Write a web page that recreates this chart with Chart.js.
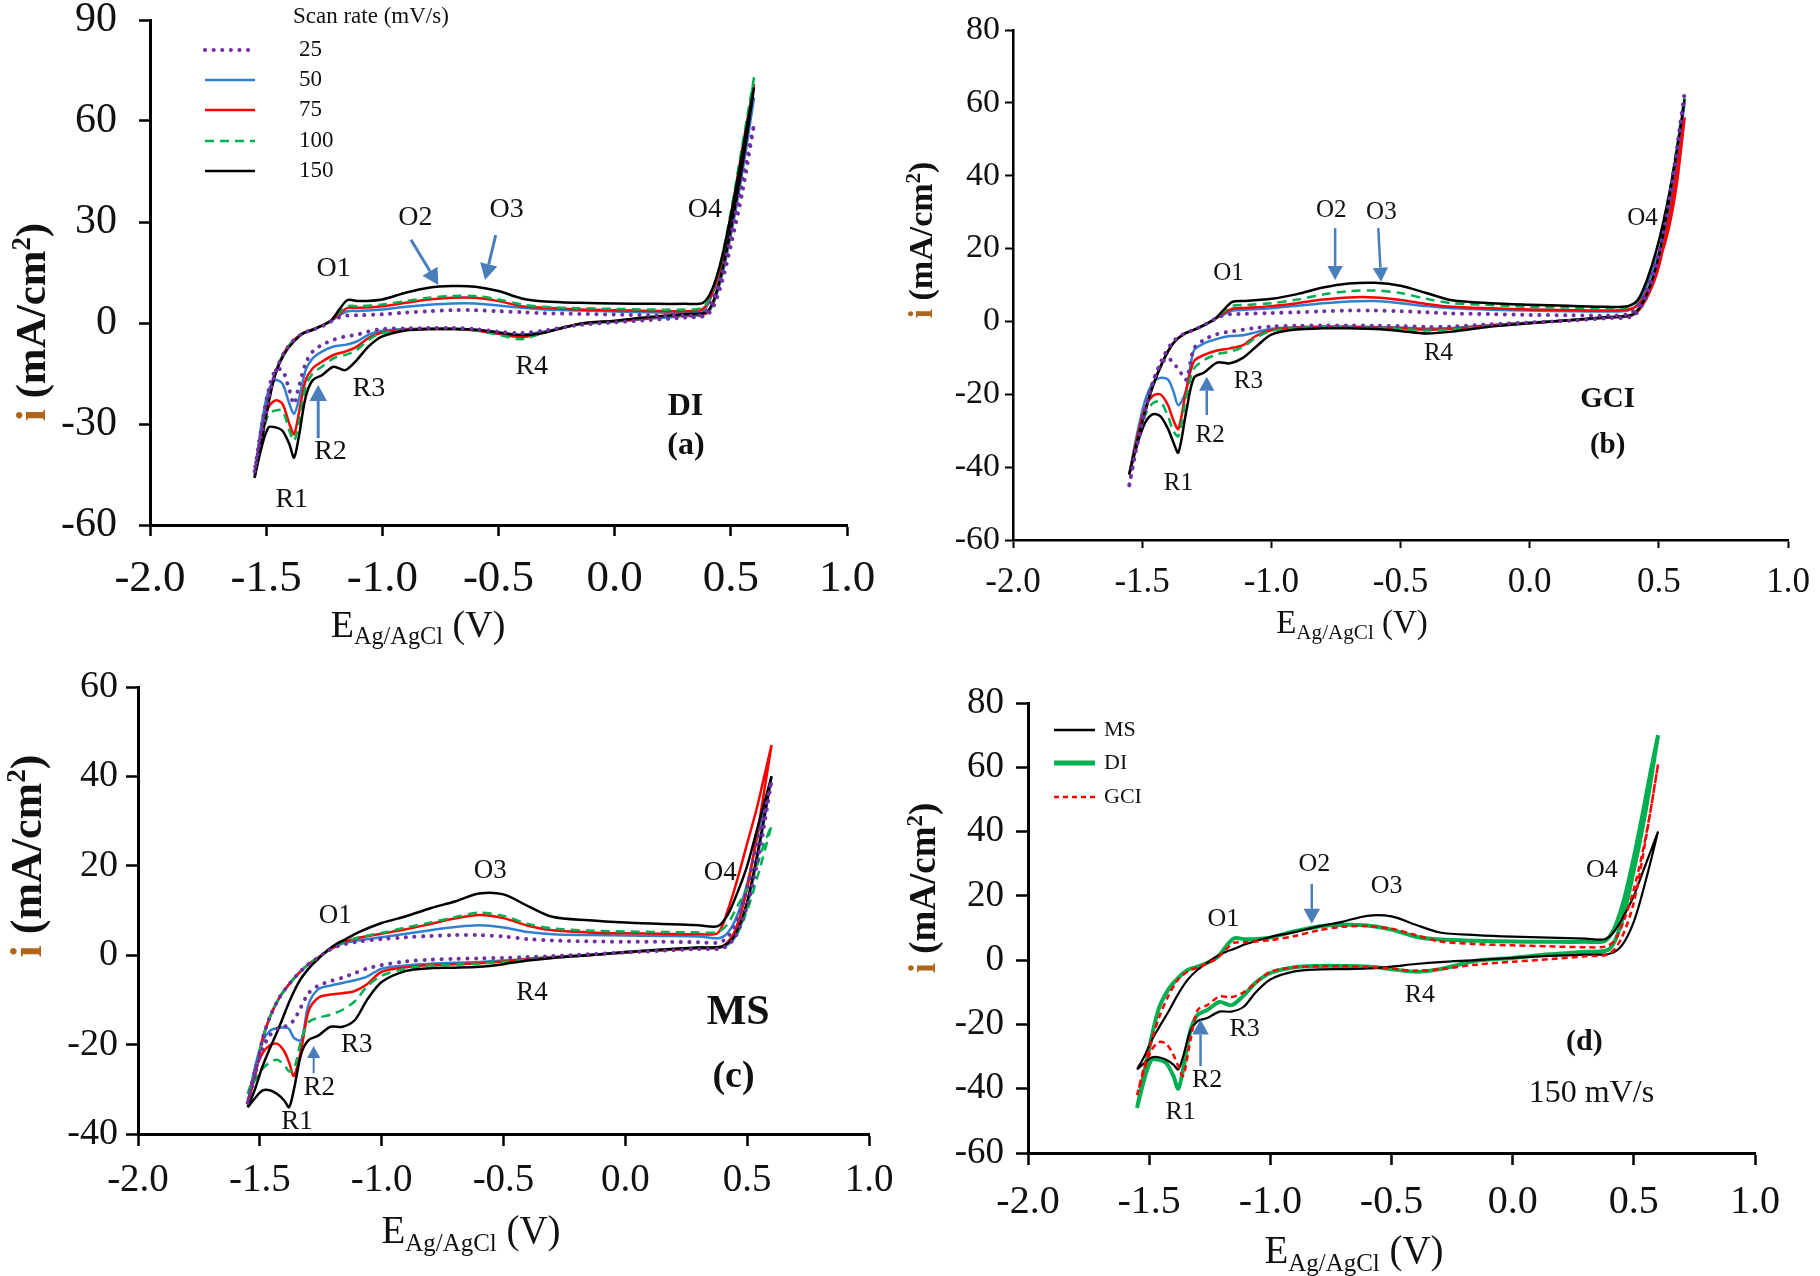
<!DOCTYPE html>
<html>
<head>
<meta charset="utf-8">
<title>Cyclic voltammograms - DI, GCI, MS</title>
<script src="https://cdn.jsdelivr.net/npm/chart.js@4.4.1/dist/chart.umd.min.js"></script>
<style>
  html, body { margin: 0; padding: 0; background: #fff; }
  #page { position: relative; width: 1820px; height: 1276px; overflow: hidden; background: #fff; }
  #page canvas { position: absolute; left: 0; top: 0; }
</style>
</head>
<body>
<div id="page">
  <canvas id="cvA" width="1820" height="1276"></canvas>
  <canvas id="cvB" width="1820" height="1276"></canvas>
  <canvas id="cvC" width="1820" height="1276"></canvas>
  <canvas id="cvD" width="1820" height="1276"></canvas>
</div>
<script>
// Potential grid (V vs Ag/AgCl): anodic sweep then the return sweep
const fwdE = [-1.55, -1.52, -1.49, -1.46, -1.42, -1.38, -1.34, -1.30, -1.26, -1.22, -1.18, -1.15, -1.10, -1.00, -0.90, -0.80,
  -0.70, -0.60, -0.50, -0.40, -0.30, -0.15, 0.00, 0.15, 0.30, 0.38, 0.42, 0.46, 0.50, 0.54, 0.57, 0.60];
const revE = [0.60, 0.55, 0.50, 0.45, 0.40, 0.30, 0.15, 0.00, -0.15, -0.30, -0.40, -0.50, -0.60, -0.70, -0.80, -0.90,
  -1.00, -1.06, -1.11, -1.16, -1.21, -1.26, -1.30, -1.33, -1.36, -1.38, -1.40, -1.43, -1.46, -1.49, -1.52, -1.55];

const scanRates = ['25', '50', '75', '100', '150'];
const xTicks = [-2.0, -1.5, -1.0, -0.5, 0.0, 0.5, 1.0];

// (a) DI, current density mA/cm2
const DI_25_fwd = [-44, -33, -23, -14.5, -8.5, -5, -3, -2, -1, 0.5, 1.8, 2.2, 2.3, 2.6, 3.1, 3.5, 3.8, 3.8, 3.5, 3.2, 2.9, 2.7, 2.5, 2.3, 2.2, 2.6, 6.5, 14, 26, 39, 49, 59];
const DI_25_rev = [59, 39, 23, 9.5, 2.5, 1.6, 0.9, 0.2, -0.6, -2.2, -3, -2.6, -1.8, -1.5, -1.5, -1.6, -1.8, -2.5, -3.5, -4, -5, -6.5, -8.5, -12, -19, -24, -20, -14, -14, -20, -31, -44];
const DI_50_fwd = [-45, -33, -22, -14.5, -8.5, -5, -3, -2, -0.8, 0.6, 2.5, 3.5, 3.6, 4, 4.8, 5.4, 5.8, 5.8, 5.2, 4.5, 4, 3.7, 3.4, 3.2, 3.0, 3.6, 8.5, 17, 30, 45, 56, 67];
const DI_50_rev = [67, 45, 26, 11, 3, 2.1, 1.3, 0.4, -0.4, -2.5, -3.5, -2.8, -2, -1.6, -1.6, -1.8, -2.3, -3.5, -5.5, -6.5, -7, -8.5, -10.5, -14, -23, -27, -24, -18, -17, -20, -30, -45];
const DI_75_fwd = [-46, -34, -23, -15, -8.5, -5, -3, -2, -0.8, 0.8, 3, 4.5, 4.5, 5, 6, 7, 7.5, 7.5, 6.5, 5, 4.5, 4.0, 3.8, 3.6, 3.5, 4.2, 9, 18, 32, 48, 60, 71];
const DI_75_rev = [71, 48, 28, 12, 3.2, 2.3, 1.5, 0.5, -0.3, -2.8, -4.2, -3.2, -2.2, -1.8, -1.8, -2, -2.8, -4.5, -7, -8.5, -9.5, -11.5, -13.5, -17, -27, -33, -30, -24, -23, -25, -33, -46];
const DI_100_fwd = [-46, -34, -23, -15, -8.5, -5, -3, -2, -0.8, 0.8, 3.5, 5, 5, 5.5, 6.5, 7.5, 8, 8, 7, 5.5, 4.8, 4.4, 4.2, 4.0, 4.0, 4.6, 9.5, 19, 33, 49, 61, 73];
const DI_100_rev = [73, 49, 29, 12.5, 3.3, 2.4, 1.6, 0.6, -0.3, -2.8, -4.8, -3.5, -2.2, -1.8, -1.8, -2.2, -3, -5, -8, -9.5, -10.5, -13, -15, -19, -30, -35, -32, -26, -26, -27, -35, -46];
const DI_150_fwd = [-46, -35, -24, -15, -9, -5.5, -3, -2, -0.8, 0.8, 4.5, 6.8, 6.5, 7, 9, 10.5, 11, 10.8, 9.5, 7.3, 6.4, 6.0, 5.8, 5.7, 5.7, 6, 10, 19, 32, 47, 59, 70];
const DI_150_rev = [70, 47, 28, 12, 3.5, 2.6, 1.8, 0.7, -0.2, -2.8, -3.6, -2.8, -2, -1.8, -1.8, -2.2, -4, -7, -11, -14, -13, -15.5, -17, -22, -34, -40, -36, -32, -31, -31, -37, -46];

// (b) GCI
const GCI_25_fwd = [-45, -34, -25, -17, -10, -5.5, -3.5, -2.3, -1, 0.6, 1.8, 2, 2.1, 2.3, 2.5, 2.8, 3, 3, 2.8, 2.5, 2.2, 2, 1.8, 1.7, 1.6, 2, 4, 10, 19, 31, 45, 63];
const GCI_25_rev = [63, 38, 18, 6.5, 1.5, 0.9, 0.2, -0.3, -0.8, -1.4, -1.5, -1.3, -1.2, -1.1, -1.1, -1.2, -1.4, -1.8, -2.3, -2.8, -3.5, -5, -7.5, -16, -13, -11.5, -10, -12, -17, -25, -34, -45];
const GCI_50_fwd = [-42, -33, -25, -18, -11, -6, -3.5, -2.3, -1, 0.6, 2, 3, 3.2, 3.6, 4.3, 5, 5.5, 5.6, 5, 4.2, 3.6, 3.2, 3, 2.8, 2.7, 3, 5, 11, 19, 31, 44, 60];
const GCI_50_rev = [60, 36, 17, 6.5, 1.8, 1, 0.3, -0.3, -1, -1.8, -2, -1.7, -1.5, -1.4, -1.4, -1.6, -2, -3, -3.8, -4, -4.8, -6, -8, -19, -23, -19, -16, -15.5, -17, -22, -31, -42];
const GCI_75_fwd = [-42, -33, -25, -18, -11, -6, -3.5, -2.3, -1, 0.6, 2.5, 3.5, 3.7, 4.2, 5, 6, 6.6, 6.6, 5.9, 4.8, 4, 3.6, 3.3, 3.1, 3, 3.3, 4.5, 9, 16, 26, 38, 56];
const GCI_75_rev = [56, 33, 15, 6, 1.8, 1.1, 0.3, -0.4, -1.1, -2, -2.3, -1.9, -1.7, -1.5, -1.5, -1.7, -2.4, -4, -6.5, -7.4, -8, -9.2, -11, -19, -29.5, -27, -23, -20, -20.5, -24, -32, -42];
const GCI_100_fwd = [-42, -33, -25, -18, -11, -6, -3.5, -2.3, -1, 0.6, 3, 4.3, 4.5, 5, 6, 7.4, 8.3, 8.5, 7.8, 6.2, 5, 4.5, 4, 3.8, 3.6, 3.9, 6, 12.5, 22, 35, 48, 62];
const GCI_100_rev = [62, 38, 18, 7, 2, 1.2, 0.4, -0.4, -1.2, -2.2, -2.5, -2, -1.8, -1.6, -1.6, -1.8, -2.6, -4.5, -7, -8.3, -9, -10.6, -13, -21, -31.5, -30, -26, -22, -22.5, -26, -33, -42];
const GCI_150_fwd = [-42, -33, -25, -18, -11, -6, -3.5, -2.3, -1, 0.6, 3.5, 5.4, 5.6, 6.2, 7.5, 9.3, 10.4, 10.6, 9.8, 7.8, 5.8, 5, 4.6, 4.3, 4.0, 4.2, 6, 12.5, 22, 35, 47, 61];
const GCI_150_rev = [61, 38, 18, 7, 2, 1.2, 0.3, -0.5, -1.4, -2.8, -3.3, -2.6, -2.1, -1.9, -1.9, -2.2, -3.6, -7, -10, -11.5, -11.3, -14, -15.5, -25, -36, -33, -29.5, -26, -25.5, -28, -34, -42];

// (c) MS
const MS_25_fwd = [-33, -27, -19, -14, -9.5, -6.5, -4, -2, -0.5, 1, 2, 2.5, 3, 3.6, 4, 4.3, 4.5, 4.5, 4.2, 3.6, 3.3, 3.1, 3, 3, 2.9, 2.8, 4, 8, 15, 25, 32, 39];
const MS_25_rev = [39, 23, 11, 4, 1.6, 1.4, 1, 0.6, 0.2, -0.2, -0.4, -0.6, -0.7, -0.8, -1, -1.4, -2.2, -3, -4, -5, -5.8, -6.8, -8.5, -11.5, -14.5, -15.5, -16, -16.5, -18, -21, -26, -33];
const MS_50_fwd = [-33, -27, -19, -14, -9.5, -6.5, -4, -2, -0.5, 1, 2.2, 2.8, 3.3, 4, 4.8, 5.6, 6.3, 6.7, 6.2, 5.2, 4.7, 4.5, 4.4, 4.3, 4.2, 3.8, 5, 9, 16, 26, 33, 40];
const MS_50_rev = [40, 24, 11, 4, 1.8, 1.5, 1.1, 0.6, 0.1, -0.4, -0.8, -1.2, -1.5, -1.7, -1.9, -2.3, -3, -4.8, -5.6, -6.2, -6.8, -7.6, -11, -19, -18.5, -16.5, -16.2, -16.3, -17, -19.5, -25, -33];
const MS_75_fwd = [-33, -27, -19, -14, -9.5, -6.5, -4, -2, -0.5, 1, 2.3, 3, 3.8, 4.8, 5.8, 7, 8.2, 9, 8.3, 6.6, 5.6, 5.1, 4.9, 4.8, 4.7, 5, 10, 17, 25, 33, 40, 47];
const MS_75_rev = [47, 30, 15, 5.5, 2, 1.6, 1.1, 0.6, 0, -0.5, -0.9, -1.4, -1.8, -2, -2.2, -2.7, -3.7, -6.5, -8, -8.5, -8.8, -9.5, -12.5, -21, -27, -24, -21.5, -19.8, -20.2, -22, -26, -33];
const MS_100_fwd = [-31, -26, -19, -14, -9.5, -6.5, -4, -2, -0.5, 1, 2.3, 3, 3.9, 5, 6.2, 7.3, 8.5, 9.5, 8.8, 7, 6, 5.5, 5.3, 5.2, 5.1, 5.2, 7, 11, 15, 20, 25, 29];
const MS_100_rev = [29, 19, 10, 4, 2, 1.7, 1.2, 0.7, 0, -0.6, -1, -1.5, -1.9, -2.1, -2.3, -3, -4.6, -7, -10.3, -12.2, -13.3, -14, -15, -19, -25.5, -26, -24.5, -23.4, -24, -25.5, -28, -31];
const MS_150_fwd = [-34, -30, -25, -21, -16, -10.5, -6, -3, -0.8, 1.2, 2.7, 3.5, 5, 7.2, 8.7, 10.5, 12, 13.8, 13.6, 11, 8.6, 7.8, 7.3, 7, 6.7, 6.5, 9, 14, 20, 28, 34, 40];
const MS_150_rev = [40, 25, 12, 4.5, 2, 1.7, 1.3, 0.7, 0, -0.6, -1.2, -2, -2.6, -2.8, -2.9, -3.5, -6, -10, -14.5, -16, -16, -18, -19, -22, -30, -34, -32.5, -31, -30.2, -30.3, -32, -34];

const SERIF = '"Liberation Serif", "Times New Roman", serif';
const ARROW_BLUE = '#4a7ebb';
Chart.defaults.font.family = SERIF;
Chart.defaults.color = '#111';

const rateStyles = {
  '25': { borderColor: '#7030a0', borderWidth: 4, borderDash: [0.1, 8.5], borderCapStyle: 'round' },
  '50': { borderColor: '#2f80d0', borderWidth: 2.5 },
  '75': { borderColor: '#ff0000', borderWidth: 2.5 },
  '100': { borderColor: '#00b050', borderWidth: 2.5, borderDash: [9, 6] },
  '150': { borderColor: '#000000', borderWidth: 2.5 },
};

// join the two sweeps of a voltammogram into one closed loop
function cvLoop(fwd, rev) {
  const pts = fwdE.map((e, k) => ({ x: e, y: fwd[k] }));
  revE.forEach((e, k) => pts.push({ x: e, y: rev[k] }));
  return pts;
}

function cvDataset(label, fwd, rev, style, order) {
  return Object.assign({
    label: label,
    data: cvLoop(fwd, rev),
    showLine: true,
    pointRadius: 0,
    tension: 0.3,
    fill: false,
    order: order,
  }, style);
}

function drawArrow(ctx, x0, y0, x1, y1, width, head) {
  const ang = Math.atan2(y1 - y0, x1 - x0);
  const bx = x1 - head * Math.cos(ang);
  const by = y1 - head * Math.sin(ang);
  const hw = head * 0.55;
  ctx.strokeStyle = ARROW_BLUE;
  ctx.fillStyle = ARROW_BLUE;
  ctx.lineWidth = width;
  ctx.setLineDash([]);
  ctx.beginPath();
  ctx.moveTo(x0, y0);
  ctx.lineTo(bx, by);
  ctx.stroke();
  ctx.beginPath();
  ctx.moveTo(x1, y1);
  ctx.lineTo(bx + hw * Math.sin(ang), by - hw * Math.cos(ang));
  ctx.lineTo(bx - hw * Math.sin(ang), by + hw * Math.cos(ang));
  ctx.closePath();
  ctx.fill();
}

// rotated "i (mA/cm2)" with the brown i and a superscript 2
function drawYTitle(ctx, t) {
  const s = t.size;
  const parts = [
    { text: 'i', color: '#b0651c', size: s, rise: 0 },
    { text: ' (mA/cm', color: '#111', size: s, rise: 0 },
    { text: '2', color: '#111', size: s * 0.62, rise: s * 0.36 },
    { text: ')', color: '#111', size: s, rise: 0 },
  ];
  ctx.save();
  ctx.translate(t.x, t.y);
  ctx.rotate(-Math.PI / 2);
  let total = 0;
  parts.forEach(p => {
    ctx.font = `bold ${p.size}px ${SERIF}`;
    p.w = ctx.measureText(p.text).width;
    total += p.w;
  });
  let px = -total / 2;
  ctx.textAlign = 'left';
  ctx.textBaseline = 'alphabetic';
  parts.forEach(p => {
    ctx.font = `bold ${p.size}px ${SERIF}`;
    ctx.fillStyle = p.color;
    ctx.fillText(p.text, px, s * 0.33 - p.rise);
    px += p.w;
  });
  ctx.restore();
}

// "E" with subscript "Ag/AgCl" and "(V)"
function drawXTitle(ctx, t) {
  const s = t.size;
  const parts = [
    { text: 'E', size: s, drop: 0 },
    { text: 'Ag/AgCl', size: s * 0.64, drop: s * 0.2 },
    { text: ' (V)', size: s, drop: 0 },
  ];
  ctx.save();
  let total = 0;
  parts.forEach(p => {
    ctx.font = `${p.size}px ${SERIF}`;
    p.w = ctx.measureText(p.text).width;
    total += p.w;
  });
  let px = t.x - total / 2;
  ctx.fillStyle = '#111';
  ctx.textAlign = 'left';
  ctx.textBaseline = 'alphabetic';
  parts.forEach(p => {
    ctx.font = `${p.size}px ${SERIF}`;
    ctx.fillText(p.text, px, t.y + s * 0.33 + p.drop);
    px += p.w;
  });
  ctx.restore();
}

function drawLegend(ctx, lg) {
  ctx.save();
  if (lg.title) {
    ctx.font = `${lg.fontSize}px ${SERIF}`;
    ctx.fillStyle = '#111';
    ctx.textAlign = 'left';
    ctx.textBaseline = 'middle';
    ctx.fillText(lg.title.text, lg.title.x, lg.title.y);
  }
  lg.items.forEach(it => {
    const st = it.style;
    ctx.strokeStyle = st.borderColor;
    ctx.lineWidth = it.width || st.borderWidth;
    ctx.lineCap = st.borderCapStyle || 'butt';
    ctx.setLineDash(st.borderDash || []);
    ctx.beginPath();
    ctx.moveTo(lg.x0, it.y);
    ctx.lineTo(lg.x1, it.y);
    ctx.stroke();
    ctx.setLineDash([]);
    ctx.font = `${lg.fontSize}px ${SERIF}`;
    ctx.fillStyle = '#111';
    ctx.textAlign = 'left';
    ctx.textBaseline = 'middle';
    ctx.fillText(it.text, lg.textX, it.y);
  });
  ctx.restore();
}

const cvNotes = {
  id: 'cvNotes',
  afterDraw(chart, args, opts) {
    const { ctx } = chart;
    const sx = chart.scales.x;
    const sy = chart.scales.y;
    ctx.save();
    (opts.arrows || []).forEach(a => {
      drawArrow(ctx, sx.getPixelForValue(a.from[0]), sy.getPixelForValue(a.from[1]),
        sx.getPixelForValue(a.to[0]), sy.getPixelForValue(a.to[1]), opts.arrowWidth, opts.arrowHead);
    });
    (opts.labels || []).forEach(l => {
      ctx.font = l.font || `${opts.fontSize}px ${SERIF}`;
      ctx.fillStyle = '#111';
      ctx.textAlign = 'center';
      ctx.textBaseline = 'middle';
      ctx.fillText(l.text, sx.getPixelForValue(l.at[0]), sy.getPixelForValue(l.at[1]));
    });
    if (opts.yTitle) drawYTitle(ctx, opts.yTitle);
    if (opts.xTitle) drawXTitle(ctx, opts.xTitle);
    if (opts.legend) drawLegend(ctx, opts.legend);
    ctx.restore();
  }
};

// fixed box sizes for the axes so the plot areas land where the figure has them
const Y_SIDE = 135;
const X_SIDE = 110;

function buildPanel(canvasId, p) {
  const axisBase = {
    border: { display: true, color: '#000', width: p.axisWidth },
    grid: {
      display: true, drawOnChartArea: false, drawTicks: true,
      tickLength: p.tickLen, tickColor: '#000', tickWidth: p.axisWidth - 0.5,
    },
  };
  return new Chart(document.getElementById(canvasId), {
    type: 'scatter',
    data: { datasets: p.datasets },
    plugins: [cvNotes],
    options: {
      responsive: false,
      animation: false,
      devicePixelRatio: 1,
      events: [],
      layout: {
        padding: {
          left: p.area.left - Y_SIDE,
          top: p.area.top,
          right: 1820 - p.area.right,
          bottom: 1276 - p.area.bottom - X_SIDE,
        },
      },
      plugins: {
        legend: { display: false },
        tooltip: { enabled: false },
        cvNotes: p.notes,
      },
      scales: {
        x: Object.assign({}, axisBase, {
          type: 'linear',
          min: xTicks[0],
          max: xTicks[xTicks.length - 1],
          afterBuildTicks: (scale) => { scale.ticks = xTicks.map(v => ({ value: v })); },
          afterFit: (scale) => { scale.height = X_SIDE; scale.paddingLeft = 0; scale.paddingRight = 0; },
          ticks: {
            autoSkip: false, maxRotation: 0, padding: p.xTickPad, color: '#111',
            font: { size: p.xTickSize },
            callback: (v) => Number(v).toFixed(1),
          },
        }),
        y: Object.assign({}, axisBase, {
          type: 'linear',
          min: p.yTicks[0],
          max: p.yTicks[p.yTicks.length - 1],
          afterBuildTicks: (scale) => { scale.ticks = p.yTicks.map(v => ({ value: v })); },
          afterFit: (scale) => { scale.width = Y_SIDE; scale.paddingTop = 0; scale.paddingBottom = 0; },
          ticks: {
            autoSkip: false, padding: p.yTickPad, color: '#111',
            font: { size: p.yTickSize },
            callback: (v) => String(v),
          },
        }),
      },
    },
  });
}

function rateDatasets(sets) {
  // draw order: dotted 25 on top, then 150, 100, 75, 50
  const order = { '25': 0, '150': 1, '100': 2, '75': 3, '50': 4 };
  return scanRates.map(r => cvDataset(r + ' mV/s', sets[r][0], sets[r][1], rateStyles[r], order[r]));
}

// (a) DI
buildPanel('cvA', {
  area: { left: 150, right: 847, top: 20, bottom: 525 },
  yTicks: [-60, -30, 0, 30, 60, 90],
  axisWidth: 3, tickLen: 11,
  xTickSize: 45, yTickSize: 42, xTickPad: 16, yTickPad: 22,
  datasets: rateDatasets({
    '25': [DI_25_fwd, DI_25_rev], '50': [DI_50_fwd, DI_50_rev], '75': [DI_75_fwd, DI_75_rev],
    '100': [DI_100_fwd, DI_100_rev], '150': [DI_150_fwd, DI_150_rev],
  }),
  notes: {
    fontSize: 28, arrowWidth: 3, arrowHead: 16,
    labels: [
      { text: 'O1', at: [-1.21, 16.2] }, { text: 'O2', at: [-0.858, 31.3] },
      { text: 'O3', at: [-0.465, 33.7] }, { text: 'O4', at: [0.388, 33.7] },
      { text: 'R1', at: [-1.39, -52.5] }, { text: 'R2', at: [-1.223, -38.3] },
      { text: 'R3', at: [-1.058, -19.6] }, { text: 'R4', at: [-0.357, -13.1] },
      { text: 'DI', at: [0.305, -24.8], font: `bold 32px ${SERIF}` },
      { text: '(a)', at: [0.307, -36.6], font: `bold 32px ${SERIF}` },
    ],
    arrows: [
      { from: [-0.877, 24.7], to: [-0.759, 11.3] },
      { from: [-0.512, 26.1], to: [-0.558, 12.8] },
      { from: [-1.276, -34.2], to: [-1.276, -18.4] },
    ],
    yTitle: { x: 31, y: 322, size: 43 },
    xTitle: { x: 418, y: 624, size: 38 },
    legend: {
      fontSize: 23, x0: 205, x1: 255, textX: 299,
      title: { text: 'Scan rate (mV/s)', x: 293, y: 17 },
      items: scanRates.map((r, k) => ({ text: r, style: rateStyles[r], y: [50, 80, 110, 141, 171][k] })),
    },
  },
});

// (b) GCI
buildPanel('cvB', {
  area: { left: 1013, right: 1788, top: 30, bottom: 540 },
  yTicks: [-60, -40, -20, 0, 20, 40, 60, 80],
  axisWidth: 2.5, tickLen: 8,
  xTickSize: 35, yTickSize: 34, xTickPad: 14, yTickPad: 5,
  datasets: rateDatasets({
    '25': [GCI_25_fwd, GCI_25_rev], '50': [GCI_50_fwd, GCI_50_rev], '75': [GCI_75_fwd, GCI_75_rev],
    '100': [GCI_100_fwd, GCI_100_rev], '150': [GCI_150_fwd, GCI_150_rev],
  }),
  notes: {
    fontSize: 25, arrowWidth: 2.5, arrowHead: 14,
    labels: [
      { text: 'O1', at: [-1.166, 13.2] }, { text: 'O2', at: [-0.768, 30.6] },
      { text: 'O3', at: [-0.574, 29.9] }, { text: 'O4', at: [0.437, 28.3] },
      { text: 'R1', at: [-1.36, -44.4] }, { text: 'R2', at: [-1.237, -31.2] },
      { text: 'R3', at: [-1.089, -16.5] }, { text: 'R4', at: [-0.353, -8.8] },
      { text: 'GCI', at: [0.302, -21.4], font: `bold 29px ${SERIF}` },
      { text: '(b)', at: [0.302, -34.1], font: `bold 29px ${SERIF}` },
    ],
    arrows: [
      { from: [-0.753, 25.6], to: [-0.753, 11.4] },
      { from: [-0.586, 25.6], to: [-0.575, 10.9] },
      { from: [-1.25, -25.7], to: [-1.25, -15.2] },
    ],
    yTitle: { x: 921, y: 240, size: 34 },
    xTitle: { x: 1352, y: 622, size: 33 },
  },
});

// (c) MS
buildPanel('cvC', {
  area: { left: 138, right: 869, top: 687, bottom: 1134 },
  yTicks: [-40, -20, 0, 20, 40, 60],
  axisWidth: 3, tickLen: 12,
  xTickSize: 39, yTickSize: 38, xTickPad: 11, yTickPad: 8,
  datasets: rateDatasets({
    '25': [MS_25_fwd, MS_25_rev], '50': [MS_50_fwd, MS_50_rev], '75': [MS_75_fwd, MS_75_rev],
    '100': [MS_100_fwd, MS_100_rev], '150': [MS_150_fwd, MS_150_rev],
  }),
  notes: {
    fontSize: 27, arrowWidth: 2, arrowHead: 12,
    labels: [
      { text: 'O1', at: [-1.19, 8.8] }, { text: 'O3', at: [-0.554, 18.8] },
      { text: 'O4', at: [0.39, 18.3] },
      { text: 'R1', at: [-1.347, -37.4] }, { text: 'R2', at: [-1.256, -29.7] },
      { text: 'R3', at: [-1.102, -20] }, { text: 'R4', at: [-0.383, -8.4] },
      { text: 'MS', at: [0.463, -13], font: `bold 42px ${SERIF}` },
      { text: '(c)', at: [0.444, -27.3], font: `bold 38px ${SERIF}` },
    ],
    arrows: [
      { from: [-1.279, -26.4], to: [-1.279, -20.3] },
    ],
    yTitle: { x: 26, y: 856, size: 44 },
    xTitle: { x: 471, y: 1230, size: 39 },
  },
});

// (d) 150 mV/s comparison
buildPanel('cvD', {
  area: { left: 1028, right: 1755, top: 703, bottom: 1153 },
  yTicks: [-60, -40, -20, 0, 20, 40, 60, 80],
  axisWidth: 3, tickLen: 12,
  xTickSize: 40, yTickSize: 37, xTickPad: 13, yTickPad: 12,
  datasets: [
    cvDataset('GCI', GCI_150_fwd, GCI_150_rev, { borderColor: '#ff0000', borderWidth: 2.5, borderDash: [6, 4] }, 0),
    cvDataset('MS', MS_150_fwd, MS_150_rev, { borderColor: '#000000', borderWidth: 2.2 }, 1),
    cvDataset('DI', DI_150_fwd, DI_150_rev, { borderColor: '#00b050', borderWidth: 4 }, 2),
  ],
  notes: {
    fontSize: 26, arrowWidth: 2.5, arrowHead: 15,
    labels: [
      { text: 'O1', at: [-1.194, 12.9] }, { text: 'O2', at: [-0.818, 30] },
      { text: 'O3', at: [-0.52, 23.1] }, { text: 'O4', at: [0.368, 28] },
      { text: 'R1', at: [-1.37, -47.3] }, { text: 'R2', at: [-1.261, -37.3] },
      { text: 'R3', at: [-1.106, -21.6] }, { text: 'R4', at: [-0.383, -11] },
      { text: '(d)', at: [0.296, -25.6], font: `bold 30px ${SERIF}` },
      { text: '150 mV/s', at: [0.325, -41.5], font: `32px ${SERIF}` },
    ],
    arrows: [
      { from: [-0.829, 23.7], to: [-0.829, 11.3] },
      { from: [-1.288, -33], to: [-1.288, -18.5] },
    ],
    yTitle: { x: 923, y: 888, size: 37 },
    xTitle: { x: 1354, y: 1250, size: 39 },
    legend: {
      fontSize: 22, x0: 1054, x1: 1095, textX: 1104,
      items: [
        { text: 'MS', style: { borderColor: '#000000', borderWidth: 2.5 }, y: 730 },
        { text: 'DI', style: { borderColor: '#00b050', borderWidth: 5 }, y: 763 },
        { text: 'GCI', style: { borderColor: '#ff0000', borderWidth: 2.5, borderDash: [5, 4] }, y: 797 },
      ],
    },
  },
});
</script>
</body>
</html>
